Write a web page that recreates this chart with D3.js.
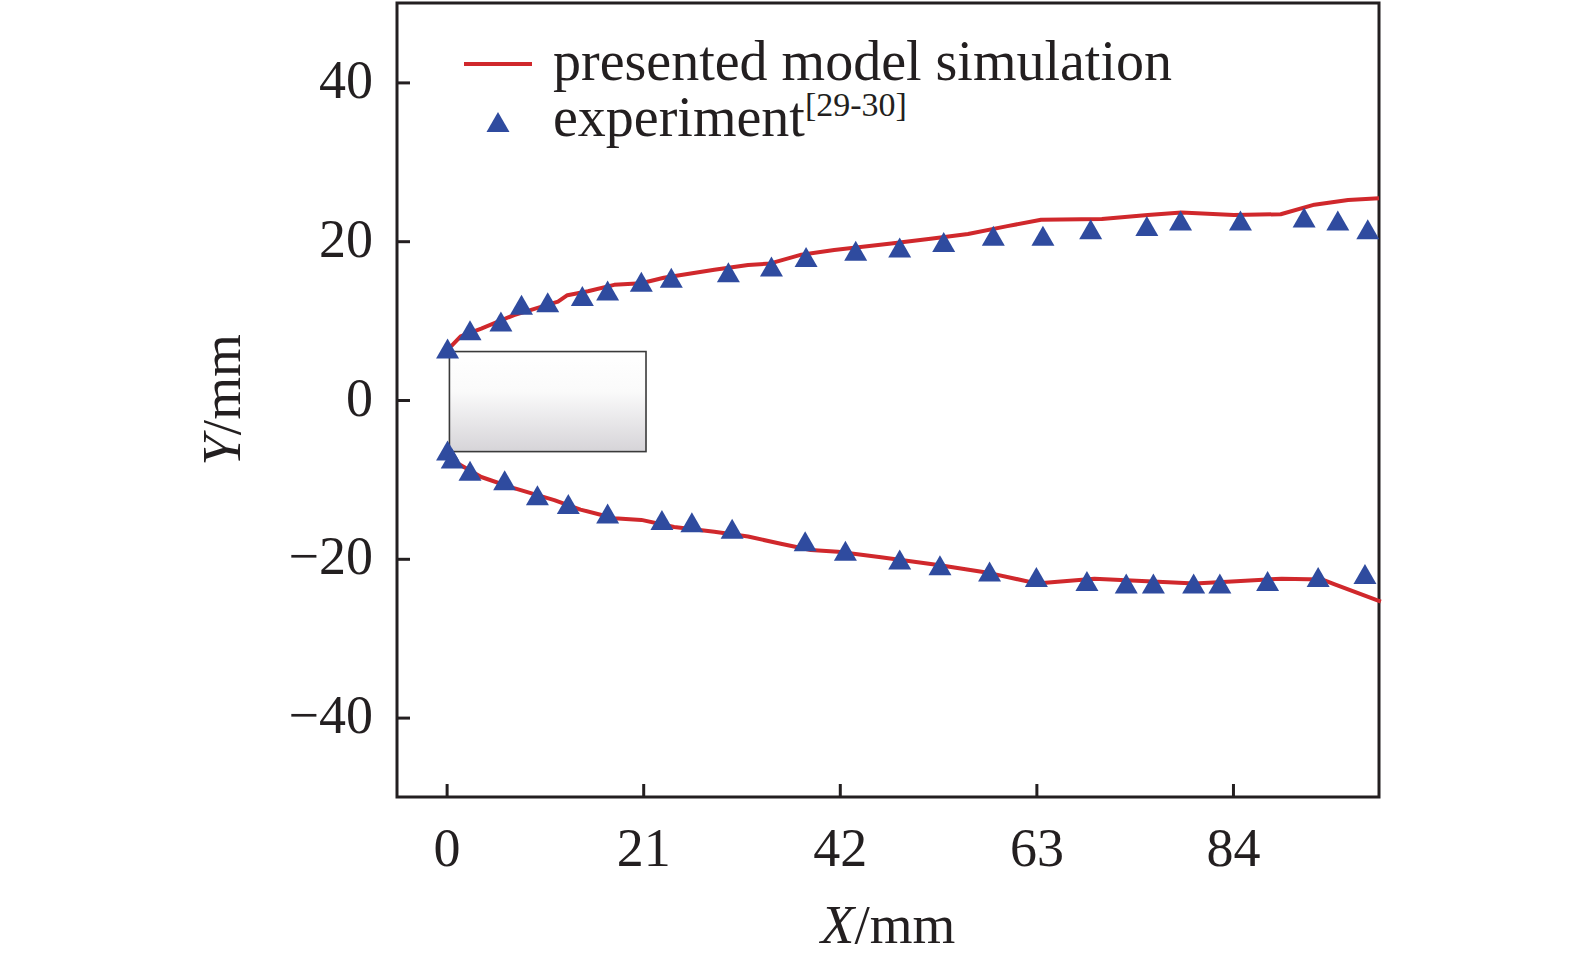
<!DOCTYPE html>
<html>
<head>
<meta charset="utf-8">
<script src="https://cdn.jsdelivr.net/npm/d3@7"></script>
<style>
  body { margin: 0; background: #fff; }
  svg { display: block; font-family: "Liberation Serif", "Times New Roman", serif; }
</style>
</head>
<body>
<script>
// simulation curves (upper and lower jet boundary)
const simUpperX = [0.3, 0.6, 1.5, 3.7, 7.2, 11.9, 12.9, 15.1, 17.9, 20.8, 23.2, 28.6, 32.2, 34.6, 37.9, 41.4, 47.5, 51.7, 55.7, 59.9, 63.5, 70.0, 74.9, 78.5, 84.1, 89.1, 92.7, 96.3, 99.6];
const simUpperY = [6.7, 6.9, 8.0, 9.0, 10.7, 12.4, 13.2, 13.7, 14.5, 14.7, 15.4, 16.4, 17.0, 17.2, 18.3, 18.9, 19.7, 20.3, 20.9, 21.9, 22.7, 22.8, 23.3, 23.6, 23.3, 23.4, 24.6, 25.2, 25.4];
const simLowerX = [0.3, 1.2, 3.7, 7.2, 11.5, 14.3, 17.9, 20.8, 24.3, 28.6, 32.2, 35.7, 38.9, 41.8, 46.4, 52.7, 58.0, 63.0, 69.2, 79.9, 83.4, 89.2, 93.5, 94.8, 99.8];
const simLowerY = [-7.0, -8.0, -9.7, -11.1, -12.6, -13.8, -14.9, -15.1, -16.0, -16.6, -17.2, -18.1, -18.9, -19.1, -19.8, -20.8, -21.8, -23.1, -22.5, -23.1, -22.9, -22.5, -22.6, -23.2, -25.4];

// experiment points
const expUpperX = [0.1, 2.5, 5.8, 8.0, 10.8, 14.5, 17.2, 20.8, 24.0, 30.1, 34.7, 38.4, 43.7, 48.4, 53.1, 58.4, 63.7, 68.8, 74.8, 78.4, 84.8, 91.6, 95.2, 98.4];
const expUpperY = [6.5, 8.8, 9.9, 12.0, 12.3, 13.1, 13.8, 14.9, 15.4, 16.1, 16.8, 18.0, 18.8, 19.2, 19.9, 20.7, 20.7, 21.5, 21.9, 22.6, 22.6, 23.0, 22.6, 21.5];
const expLowerX = [0.1, 0.6, 2.5, 6.2, 9.7, 13.0, 17.2, 23.0, 26.2, 30.5, 38.3, 42.6, 48.4, 52.7, 58.0, 63.0, 68.4, 72.6, 75.5, 79.8, 82.6, 87.7, 93.1, 98.1];
const expLowerY = [-6.35, -7.36, -8.9, -10.1, -12.0, -13.1, -14.3, -15.1, -15.4, -16.2, -17.8, -19.0, -20.1, -20.8, -21.6, -22.3, -22.8, -23.1, -23.1, -23.1, -23.1, -22.8, -22.3, -21.9];

// body (rectangle) extent
const bodyX = [0.3, 21.3];
const bodyY = [-6.5, 6.1];

const xTicks = [0, 21, 42, 63, 84];
const yTicks = [40, 20, 0, -20, -40];
const legendLabels = ["presented model simulation", "experiment"];

const width = 1575, height = 961;
const mLeft = 397, mRight = 1379, mTop = 3, mBottom = 797;
const red = "#d0282c", blue = "#2f4b9f", ink = "#231f20";

const svg = d3.select("body").append("svg")
    .attr("width", width)
    .attr("height", height);

const x = d3.scaleLinear().domain([-5.3, 99.6]).range([mLeft, mRight]);
const y = d3.scaleLinear().domain([-50, 50]).range([mBottom, mTop]);

// gradient for the body
const grad = svg.append("defs").append("linearGradient")
    .attr("id", "bodyGrad")
    .attr("x1", 0).attr("y1", 0).attr("x2", 0).attr("y2", 1);
grad.append("stop").attr("offset", "0%").attr("stop-color", "#ffffff");
grad.append("stop").attr("offset", "40%").attr("stop-color", "#fafafa");
grad.append("stop").attr("offset", "100%").attr("stop-color", "#d6d4d8");

svg.append("rect")
    .attr("x", x(bodyX[0]))
    .attr("y", y(bodyY[1]))
    .attr("width", x(bodyX[1]) - x(bodyX[0]))
    .attr("height", y(bodyY[0]) - y(bodyY[1]))
    .attr("fill", "url(#bodyGrad)")
    .attr("stroke", "#3a3a3a")
    .attr("stroke-width", 1.6);

// axes
const xAxis = svg.append("g")
    .attr("transform", `translate(0,${mBottom})`)
    .call(d3.axisBottom(x).tickValues(xTicks).tickSizeInner(-13).tickSizeOuter(0).tickPadding(30));
const yAxis = svg.append("g")
    .attr("transform", `translate(${mLeft},0)`)
    .call(d3.axisLeft(y).tickValues(yTicks).tickSizeInner(-13).tickSizeOuter(0).tickPadding(24)
        .tickFormat(d => d < 0 ? "\u2212" + Math.abs(d) : d));

[xAxis, yAxis].forEach(g => {
    g.select(".domain").remove();
    g.selectAll(".tick line").attr("stroke", ink).attr("stroke-width", 3);
    g.selectAll(".tick text")
        .attr("fill", ink)
        .style("font-family", "Liberation Serif, serif")
        .style("font-size", "54px");
});
xAxis.selectAll(".tick text").attr("dy", null).attr("y", 69);
yAxis.selectAll(".tick text").attr("y", 0).attr("dy", "0.28em");

// frame
svg.append("rect")
    .attr("x", mLeft).attr("y", mTop)
    .attr("width", mRight - mLeft).attr("height", mBottom - mTop)
    .attr("fill", "none")
    .attr("stroke", ink)
    .attr("stroke-width", 3);

// simulation lines
const line = d3.line().x(d => x(d[0])).y(d => y(d[1]));
[[simUpperX, simUpperY], [simLowerX, simLowerY]].forEach(([xs, ys]) => {
    svg.append("path")
        .datum(xs.map((v, i) => [v, ys[i]]))
        .attr("d", line)
        .attr("fill", "none")
        .attr("stroke", red)
        .attr("stroke-width", 4)
        .attr("stroke-linejoin", "round");
});

// triangle markers
const tri = "M0,-10L11.5,10L-11.5,10Z";
const expPts = expUpperX.map((v, i) => [v, expUpperY[i]])
    .concat(expLowerX.map((v, i) => [v, expLowerY[i]]));
svg.append("g").selectAll("path")
    .data(expPts)
    .enter()
    .append("path")
    .attr("d", tri)
    .attr("transform", d => `translate(${x(d[0])},${y(d[1])})`)
    .attr("fill", blue);

// legend
const legend = svg.append("g");
legend.append("line")
    .attr("x1", 464).attr("x2", 532).attr("y1", 64).attr("y2", 64)
    .attr("stroke", red).attr("stroke-width", 4);
legend.append("text")
    .attr("x", 553).attr("y", 80)
    .attr("font-size", 56).attr("fill", ink)
    .text(legendLabels[0]);
legend.append("path")
    .attr("d", tri)
    .attr("transform", "translate(498,122)")
    .attr("fill", blue);
const expText = legend.append("text")
    .attr("x", 553).attr("y", 136)
    .attr("font-size", 56).attr("fill", ink);
expText.append("tspan").text(legendLabels[1]);
expText.append("tspan").attr("font-size", 34).attr("dy", -20).text("[29-30]");

// axis titles
const xTitle = svg.append("text")
    .attr("x", (mLeft + mRight) / 2).attr("y", 943)
    .attr("text-anchor", "middle")
    .attr("font-size", 55).attr("fill", ink);
xTitle.append("tspan").attr("font-style", "italic").text("X");
xTitle.append("tspan").text("/mm");

const yTitle = svg.append("text")
    .attr("transform", `translate(240,${(mTop + mBottom) / 2}) rotate(-90)`)
    .attr("text-anchor", "middle")
    .attr("font-size", 55).attr("fill", ink);
yTitle.append("tspan").attr("font-style", "italic").text("Y");
yTitle.append("tspan").text("/mm");
</script>
</body>
</html>
